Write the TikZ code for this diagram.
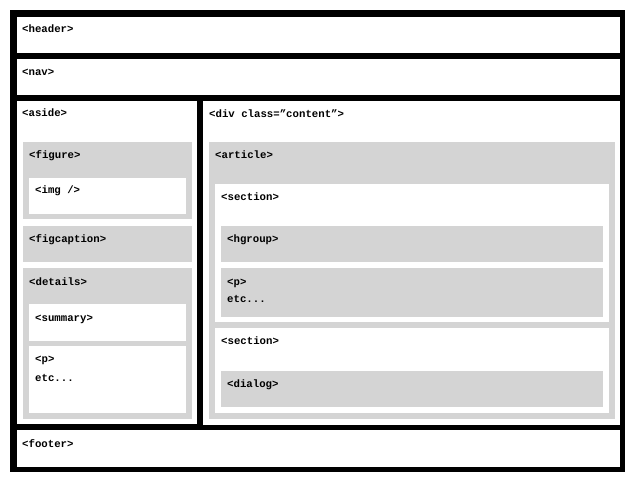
\documentclass[tikz,border=0pt]{standalone}
\usepackage{fontspec}
\setmonofont{Liberation Mono}
\definecolor{boxgray}{HTML}{D4D4D4}
\begin{document}
\begin{tikzpicture}[x=1bp,y=-1bp,
  lbl/.style={anchor=base west,inner sep=0pt,font=\ttfamily\bfseries\fontsize{10.7bp}{12bp}\selectfont},
  gbox/.style={fill=boxgray},
  wbox/.style={fill=white},
  frame/.style={fill=black}]
\useasboundingbox (0,0) rectangle (638,478);
\fill[white] (0,0) rectangle (638,478);
% outer black frame
\fill[frame] (10,10) rectangle (625,472);
% main white regions
\fill[wbox] (17,17) rectangle (620,53);
\fill[wbox] (17,59) rectangle (620,95);
\fill[wbox] (17,101) rectangle (197,424);
\fill[wbox] (203,101) rectangle (620,425);
\fill[wbox] (17,430) rectangle (620,467);
% aside contents
\fill[gbox] (23,142) rectangle (192,219);
\fill[wbox] (29,178) rectangle (186,214);
\fill[gbox] (23,226) rectangle (192,262);
\fill[gbox] (23,268) rectangle (192,419);
\fill[wbox] (29,304) rectangle (186,341);
\fill[wbox] (29,346) rectangle (186,413);
% content
\fill[gbox] (209,142) rectangle (615,419);
\fill[wbox] (215,184) rectangle (609,322);
\fill[gbox] (221,226) rectangle (603,262);
\fill[gbox] (221,268) rectangle (603,317);
\fill[wbox] (215,328) rectangle (609,413);
\fill[gbox] (221,371) rectangle (603,407);
% labels
\node[lbl] (header) at (22,33) {<header>};
\node[lbl] (nav) at (22,76) {<nav>};
\node[lbl] (aside) at (22,117) {<aside>};
\node[lbl] (div) at (209,118) {<div class=”content”>};
\node[lbl] (figure) at (29,159) {<figure>};
\node[lbl] (img) at (35,194) {<img />};
\node[lbl] (figcaption) at (29,243) {<figcaption>};
\node[lbl] (details) at (29,285) {<details>};
\node[lbl] (summary) at (35,321) {<summary>};
\node[lbl] (p1) at (35,362) {<p>};
\node[lbl] (etc1) at (35,381) {etc...};
\node[lbl] (article) at (215,159) {<article>};
\node[lbl] (section1) at (221,201) {<section>};
\node[lbl] (hgroup) at (227,243) {<hgroup>};
\node[lbl] (p2) at (227,285) {<p>};
\node[lbl] (etc2) at (227,302) {etc...};
\node[lbl] (section2) at (221,344) {<section>};
\node[lbl] (dialog) at (227,387) {<dialog>};
\node[lbl] (footer) at (22,447) {<footer>};
\end{tikzpicture}
\end{document}
